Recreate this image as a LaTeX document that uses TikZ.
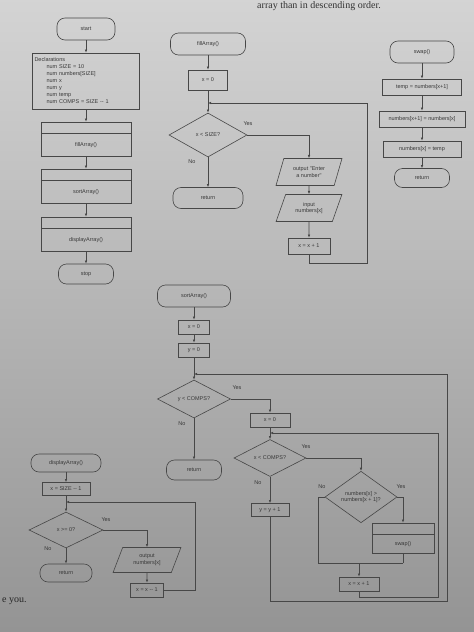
\documentclass[tikz,border=0pt]{standalone}
\usepackage{fontspec}
\newfontfamily\chartfont{Liberation Sans}
\newfontfamily\pagefont{Liberation Serif}
\usetikzlibrary{shapes.geometric,arrows.meta}
\begin{document}
\begin{tikzpicture}[x=1pt,y=-1pt,
  every node/.style={font=\chartfont\fontsize{5.5}{6.8}\selectfont, text=black!78, inner sep=1pt},
  line/.style={draw=black!72, line width=0.6pt},
  arr/.style={line, -{Latex[length=3.2pt,width=2.6pt]}},
  termbox/.style={draw=black!72, line width=0.6pt, rounded corners=8pt},
  procbox/.style={draw=black!72, line width=0.6pt},
  prebox/.style={procbox, minimum width=90pt, minimum height=34pt,
    path picture={\draw[black!72,line width=0.6pt]
      ([yshift=-11pt]path picture bounding box.north west) --
      ([yshift=-11pt]path picture bounding box.north east);}},
  decbox/.style={draw=black!72, line width=0.6pt, diamond, inner sep=0pt, align=center},
  iobox/.style={draw=black!72, line width=0.6pt, trapezium, trapezium stretches=true,
    trapezium left angle=65, trapezium right angle=115, align=center, inner sep=0pt},
  lbl/.style={inner sep=0pt}
]
\useasboundingbox (0,0) rectangle (474,632);
\clip (0,0) rectangle (474,632);
\shade[top color=black!17, bottom color=black!42] (0,0) rectangle (474,632);

% page text fragments
\node[font=\pagefont\fontsize{10}{12}\selectfont, text=black!80, anchor=base east] (toptext) at (382,8) {array than in descending order.};
\node[font=\pagefont\fontsize{10}{12}\selectfont, text=black!85, anchor=base west] (bottomtext) at (1,602) {e you.};

% ---------- main ----------
\node[termbox, minimum width=58pt, minimum height=22pt] (start) at (86,29) {start};
\node[procbox, minimum width=107pt, minimum height=56pt, text width=103pt, align=left,
      font=\chartfont\fontsize{5.5}{7}\selectfont] (decl) at (86,81)
  {Declarations\\
   \hspace*{12pt}num SIZE = 10\\
   \hspace*{12pt}num numbers[SIZE]\\
   \hspace*{12pt}num x\\
   \hspace*{12pt}num y\\
   \hspace*{12pt}num temp\\
   \hspace*{12pt}num COMPS = SIZE -- 1};
\node[prebox] (fcall) at (86,139) {};
\node (fcallt) at (86,145) {fillArray()};
\node[prebox] (scall) at (86,186) {};
\node (scallt) at (86,192) {sortArray()};
\node[prebox] (dcall) at (86,234) {};
\node (dcallt) at (86,240) {displayArray()};
\node[termbox, minimum width=55pt, minimum height=20pt] (stop) at (86,274) {stop};
\draw[arr] (start) -- (decl);
\draw[arr] (decl) -- (fcall);
\draw[arr] (fcall) -- (scall);
\draw[arr] (scall) -- (dcall);
\draw[arr] (dcall) -- (stop);

% ---------- fillArray ----------
\node[termbox, minimum width=75pt, minimum height=22pt] (fat) at (208,44) {fillArray()};
\node[procbox, minimum width=39pt, minimum height=20pt] (fax) at (208,80) {x = 0};
\node[decbox, minimum width=78pt, minimum height=44pt] (fad) at (208,135) {x < SIZE?};
\node[termbox, minimum width=70pt, minimum height=21pt] (faret) at (208,198) {return};
\node[iobox, minimum width=66pt, minimum height=27pt] (faout) at (309,172) {output "Enter\\a number"};
\node[iobox, minimum width=66pt, minimum height=27pt] (fain) at (309,208) {input\\numbers[x]};
\node[procbox, minimum width=42pt, minimum height=16pt] (fainc) at (309,246) {x = x + 1};
\node[lbl] (fayes) at (248,124) {Yes};
\node[lbl] (fano) at (192,162) {No};
\coordinate (falb) at (367,263);
\coordinate (falt) at (367,103);
\coordinate (faent) at (208,103);
\draw[arr] (fat) -- (fax);
\draw[arr] (fax) -- (fad);
\draw[arr] (fad) -- (faret);
\draw[arr] (fad.east) -| (faout.north);
\draw[arr] (faout) -- (fain);
\draw[arr] (fain) -- (fainc);
\draw[arr] (fainc.south) |- (falb) -- (falt) -- (faent);

% ---------- swap ----------
\node[termbox, minimum width=64pt, minimum height=22pt] (swt) at (422,52) {swap()};
\node[procbox, minimum width=79pt, minimum height=16pt] (sw1) at (422,87) {temp = numbers[x+1]};
\node[procbox, minimum width=86pt, minimum height=16pt] (sw2) at (422,119) {numbers[x+1] = numbers[x]};
\node[procbox, minimum width=78pt, minimum height=16pt] (sw3) at (422,149) {numbers[x] = temp};
\node[termbox, minimum width=55pt, minimum height=19pt] (swret) at (422,178) {return};
\draw[arr] (swt) -- (sw1);
\draw[arr] (sw1) -- (sw2);
\draw[arr] (sw2) -- (sw3);
\draw[arr] (sw3) -- (swret);

% ---------- sortArray ----------
\node[termbox, minimum width=73pt, minimum height=22pt] (sot) at (194,296) {sortArray()};
\node[procbox, minimum width=31pt, minimum height=14pt] (sox) at (194,327) {x = 0};
\node[procbox, minimum width=31pt, minimum height=14pt] (soy) at (194,350) {y = 0};
\node[decbox, minimum width=73pt, minimum height=38pt] (sod) at (194,399) {y < COMPS?};
\node[termbox, minimum width=55pt, minimum height=20pt] (soret) at (194,470) {return};
\node[procbox, minimum width=40pt, minimum height=14pt] (sox2) at (270,420) {x = 0};
\node[decbox, minimum width=72pt, minimum height=37pt] (sod2) at (270,458) {x < COMPS?};
\node[procbox, minimum width=38pt, minimum height=13pt] (soyinc) at (270,510) {y = y + 1};
\node[decbox, minimum width=72pt, minimum height=37pt] (sod3) at (361,497) {numbers[x] >\\numbers[x + 1]?};
\node[prebox, minimum width=62pt, minimum height=30pt] (soswap) at (403,538) {};
\node (soswapt) at (403,544) {swap()};
\node[procbox, minimum width=40pt, minimum height=14pt] (soxinc) at (359,584) {x = x + 1};
\node[lbl] (soyes1) at (237,388) {Yes};
\node[lbl] (sono1) at (182,424) {No};
\node[lbl] (soyes2) at (306,447) {Yes};
\node[lbl] (sono2) at (258,483) {No};
\node[lbl] (sono3) at (322,487) {No};
\node[lbl] (soyes3) at (401,487) {Yes};
\coordinate (d3l) at (318,497);
\coordinate (d3b) at (318,563);
\coordinate (mrg) at (403,563);
\coordinate (mrga) at (359,563);
\coordinate (inb) at (438,597);
\coordinate (int) at (438,433);
\coordinate (ina) at (270,433);
\coordinate (outb) at (447,601);
\coordinate (outt) at (447,374);
\coordinate (outa) at (194,374);
\draw[arr] (sot) -- (sox);
\draw[arr] (sox) -- (soy);
\draw[arr] (soy) -- (sod);
\draw[arr] (sod) -- (soret);
\draw[arr] (sod.east) -| (sox2.north);
\draw[arr] (sox2) -- (sod2);
\draw[arr] (sod2) -- (soyinc);
\draw[arr] (sod2.east) -| (sod3.north);
\draw[arr] (sod3.east) -| (soswap.north);
\draw[line] (sod3.west) -- (d3l) -- (d3b) -- (mrg);
\draw[line] (soswap.south) -- (mrg);
\draw[arr] (mrga) -- (soxinc);
\draw[arr] (soxinc.south) |- (inb) -- (int) -- (ina);
\draw[arr] (soyinc.south) |- (outb) -- (outt) -- (outa);

% ---------- displayArray ----------
\node[termbox, minimum width=70pt, minimum height=18pt] (dat) at (66,463) {displayArray()};
\node[procbox, minimum width=48pt, minimum height=13pt] (dax) at (66,489) {x = SIZE -- 1};
\node[decbox, minimum width=74pt, minimum height=36pt] (dad) at (66,530) {x >= 0?};
\node[termbox, minimum width=52pt, minimum height=18pt] (daret) at (66,573) {return};
\node[iobox, minimum width=68pt, minimum height=25pt] (daout) at (147,560) {output\\numbers[x]};
\node[procbox, minimum width=33pt, minimum height=14pt] (dadec) at (147,590) {x = x -- 1};
\node[lbl] (dayes) at (106,520) {Yes};
\node[lbl] (dano) at (48,549) {No};
\coordinate (dar1) at (195,590);
\coordinate (dar2) at (195,502);
\coordinate (daa) at (66,502);
\draw[arr] (dat) -- (dax);
\draw[arr] (dax) -- (dad);
\draw[arr] (dad) -- (daret);
\draw[arr] (dad.east) -| (daout.north);
\draw[arr] (daout) -- (dadec);
\draw[arr] (dadec.east) -- (dar1) -- (dar2) -- (daa);
\end{tikzpicture}
\end{document}
